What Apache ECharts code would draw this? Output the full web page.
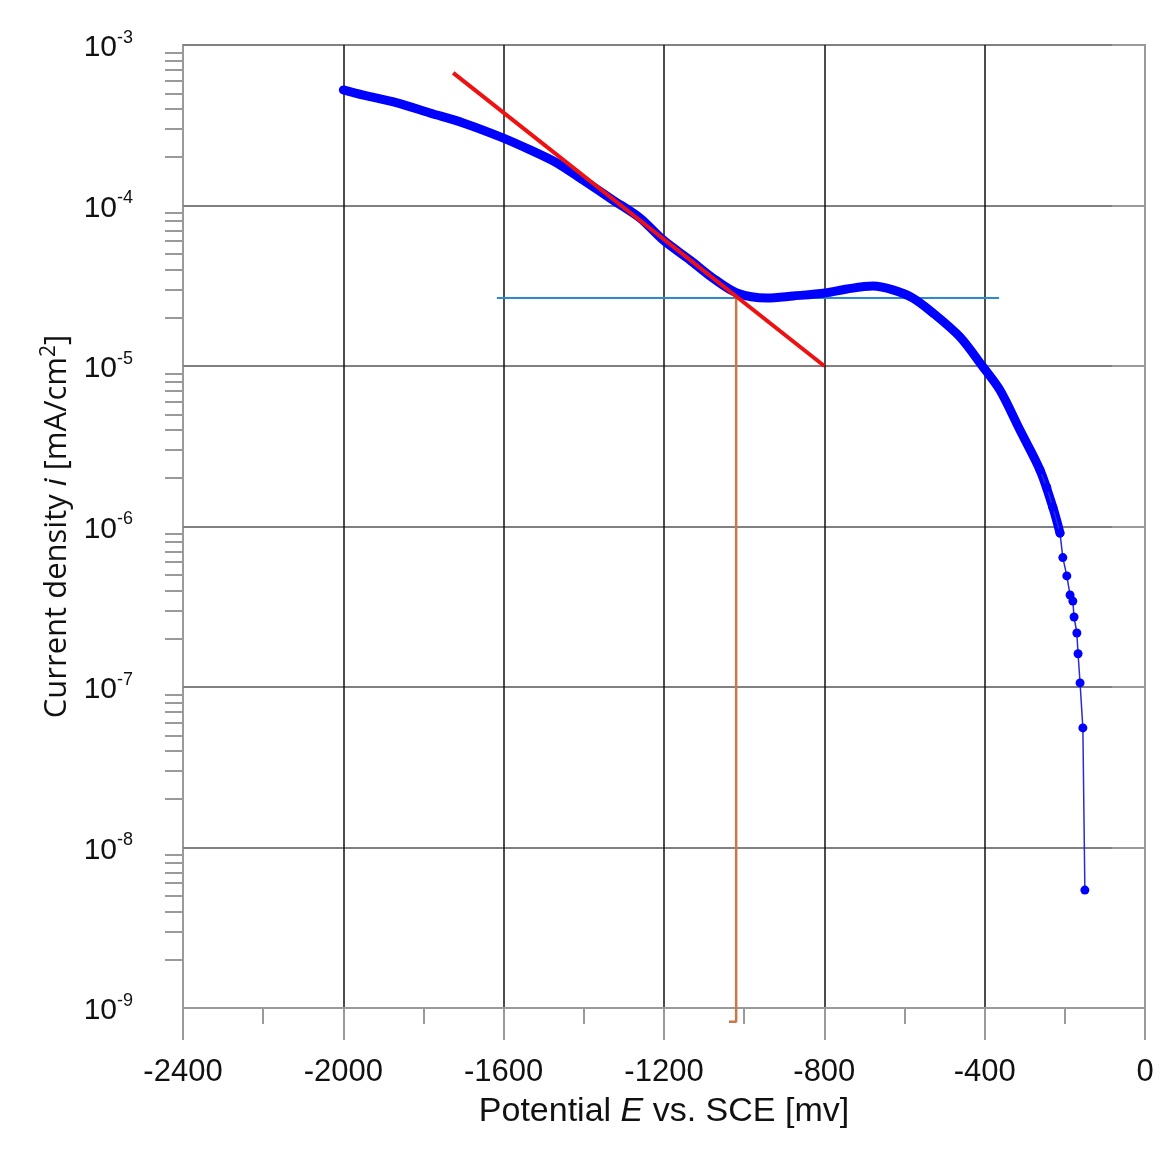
<!DOCTYPE html>
<html>
<head>
<meta charset="utf-8">
<script src="https://cdn.jsdelivr.net/npm/echarts@6/dist/echarts.min.js"></script>
<style>
  html, body { margin: 0; padding: 0; background: #fff; }
  #chart { width: 1175px; height: 1151px; }
</style>
</head>
<body>
<div id="chart"></div>
<script>
'use strict';

// measured polarization curve, dense part (mV vs SCE, mA/cm2)
var curveE = [-2000, -1950, -1866, -1784, -1701, -1602, -1534, -1467, -1402, -1327,
    -1260, -1202, -1135, -1078, -1018, -943, -878, -798, -743, -679,
    -629, -579, -529, -462, -404, -362, -312, -262, -230, -212];
var curveI = [5.25e-4, 4.87e-4, 4.36e-4, 3.77e-4, 3.27e-4, 2.64e-4, 2.22e-4, 1.84e-4, 1.44e-4, 1.08e-4,
    8.36e-5, 6.09e-5, 4.57e-5, 3.53e-5, 2.85e-5, 2.65e-5, 2.73e-5, 2.85e-5, 3.02e-5, 3.15e-5,
    2.98e-5, 2.65e-5, 2.14e-5, 1.52e-5, 9.86e-6, 7.08e-6, 3.99e-6, 2.25e-6, 1.32e-6, 9.1e-7];

// sparse tail of the same curve near the open circuit potential
var tailE = [-262, -245, -230, -212, -205, -195, -187, -180, -177, -170, -167, -162, -155, -150];
var tailI = [2.25e-6, 1.75e-6, 1.32e-6, 9.1e-7, 6.4e-7, 4.92e-7, 3.74e-7, 3.43e-7, 2.73e-7, 2.17e-7, 1.61e-7, 1.06e-7, 5.56e-8, 5.43e-9];

// cathodic Tafel line
var tafelE = [-1726, -800];
var tafelI = [6.7e-4, 1.0e-5];

// horizontal line at the corrosion current density
var icorrE = [-1617, -364];
var icorrI = [2.65e-5, 2.65e-5];

// drop line down to the corrosion potential
var ecorrE = [-1020, -1020, -1038];
var ecorrI = [2.65e-5, 8.2e-10, 8.2e-10];

var xTicks = [-2400, -2000, -1600, -1200, -800, -400, 0];
var decades = [-9, -8, -7, -6, -5, -4, -3];
var minorSteps = [2, 3, 4, 5, 6, 7, 8, 9];

function zip(a, b) {
    return a.map(function(v, i) { return [v, b[i]]; });
}

var minorTicks = [];
decades.slice(0, -1).forEach(function(d) {
    minorSteps.forEach(function(m) {
        minorTicks.push(m * Math.pow(10, d));
    });
});

var labelFont = '"Liberation Sans", Arial, sans-serif';
var nameFont = '"Open Sans", sans-serif';
var gray = '#9a9a9a';

var myChart = echarts.init(document.getElementById('chart'));

var option = {
    backgroundColor: '#fff',
    animation: false,
    grid: {
        left: 183, right: 30, top: 45, bottom: 143,
        show: true, borderColor: gray, borderWidth: 2
    },
    xAxis: {
        type: 'value',
        min: xTicks[0],
        max: xTicks[xTicks.length - 1],
        interval: 400,
        name: '{a|Potential }{i|E}{a| vs. SCE [mv]}',
        nameLocation: 'middle',
        nameGap: 87,
        nameTextStyle: {
            rich: {
                a: { fontFamily: labelFont, fontSize: 34, color: '#111' },
                i: { fontFamily: labelFont, fontSize: 34, color: '#111', fontStyle: 'italic' }
            }
        },
        axisLine: { lineStyle: { color: gray, width: 2 } },
        axisTick: { show: true, length: 32, lineStyle: { color: gray, width: 2 } },
        minorTick: { show: true, splitNumber: 2, length: 16, lineStyle: { color: gray, width: 2 } },
        axisLabel: {
            margin: 49, fontFamily: labelFont, fontSize: 31, color: '#111',
            formatter: function(v) { return String(v); }
        },
        splitLine: { show: true, showMinLine: false, showMaxLine: false, lineStyle: { color: '#111', width: 1.5 } }
    },
    yAxis: [{
        type: 'log',
        min: 1e-9,
        max: 1e-3,
        logBase: 10,
        position: 'left',
        name: '{a|Current density }{i|i}{a| [mA/cm}{s|2}{a|]}',
        nameLocation: 'middle',
        nameGap: 104,
        nameTextStyle: {
            rich: {
                a: { fontFamily: nameFont, fontSize: 31, color: '#111' },
                i: { fontFamily: nameFont, fontSize: 31, color: '#111', fontStyle: 'italic' },
                s: { fontFamily: nameFont, fontSize: 21, color: '#111', padding: [0, 0, 16, 0] }
            }
        },
        axisLine: { show: true, lineStyle: { color: gray, width: 2 } },
        axisTick: { show: true, length: 33, lineStyle: { color: gray, width: 2 } },
        axisLabel: {
            margin: 50,
            formatter: function(v) {
                return '{b|10}{s|' + Math.round(Math.log10(v)) + '}';
            },
            rich: {
                b: { fontFamily: labelFont, fontSize: 30, color: '#111', padding: [6, 0, 0, 0] },
                s: { fontFamily: labelFont, fontSize: 18, color: '#111', padding: [0, 0, 14, 0] }
            }
        },
        splitLine: { show: true, lineStyle: { color: '#808080', width: 2 } }
    }, {
        type: 'log',
        min: 1e-9,
        max: 1e-3,
        logBase: 10,
        position: 'left',
        axisLine: { show: false },
        axisLabel: { show: false },
        splitLine: { show: false },
        axisTick: {
            show: true,
            length: 18,
            customValues: minorTicks,
            lineStyle: { color: gray, width: 2 }
        }
    }],
    series: [{
        type: 'line',
        data: zip(icorrE, icorrI),
        symbol: 'none',
        lineStyle: { color: '#2a8ccc', width: 2 },
        z: 3
    }, {
        type: 'line',
        data: zip(ecorrE, ecorrI),
        symbol: 'none',
        clip: false,
        lineStyle: { color: '#c9784a', width: 2.5 },
        z: 3
    }, {
        type: 'line',
        data: zip(curveE, curveI),
        symbol: 'none',
        smooth: 0.3,
        lineStyle: { color: '#0000ff', width: 9, cap: 'round', join: 'round' },
        z: 4
    }, {
        type: 'line',
        data: zip(tailE, tailI),
        symbol: 'circle',
        symbolSize: 9,
        itemStyle: { color: '#0000ff' },
        lineStyle: { color: '#2b2bd6', width: 1.5 },
        z: 4
    }, {
        type: 'line',
        data: zip(tafelE, tafelI),
        symbol: 'none',
        lineStyle: { color: '#ee1111', width: 4 },
        z: 5
    }]
};

myChart.setOption(option);
</script>
</body>
</html>
